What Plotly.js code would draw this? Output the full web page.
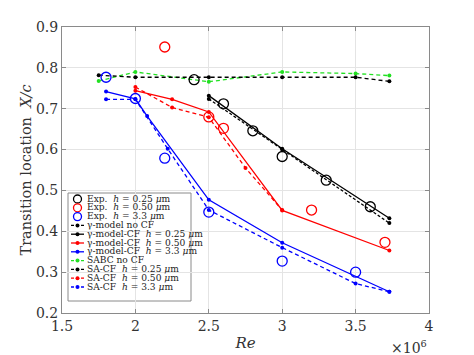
<!DOCTYPE html>
<html>
<head>
<meta charset="utf-8">
<script src="https://cdn.plot.ly/plotly-3.0.1.min.js"></script>
<style>html,body{margin:0;padding:0;background:#fff;}#chart{width:474px;height:355px;}</style>
</head>
<body>
<div id="chart"></div>
<script>
// ---- Data (Re in units of 1e6, transition location X/c) ----
const reExp025 = [2.4, 2.6, 2.8, 3.0, 3.3, 3.6];
const xcExp025 = [0.771, 0.712, 0.646, 0.583, 0.525, 0.46];
const reExp050 = [2.2, 2.5, 2.6, 3.2, 3.7];
const xcExp050 = [0.851, 0.68, 0.652, 0.452, 0.373];
const reExp33 = [1.8, 2.0, 2.2, 2.5, 3.0, 3.5];
const xcExp33 = [0.777, 0.725, 0.579, 0.447, 0.327, 0.30];

const reGamNoCF = [1.75, 2.0, 2.5, 3.0, 3.5, 3.73];
const xcGamNoCF = [0.782, 0.777, 0.777, 0.777, 0.777, 0.767];
const reGamCF025 = [2.5, 3.0, 3.73];
const xcGamCF025 = [0.732, 0.602, 0.432];
const reGamCF050 = [2.0, 2.25, 2.5, 3.0, 3.73];
const xcGamCF050 = [0.744, 0.723, 0.692, 0.451, 0.353];
const reGamCF33 = [1.8, 2.0, 2.08, 2.5, 3.0, 3.73];
const xcGamCF33 = [0.742, 0.724, 0.682, 0.477, 0.372, 0.252];

const reSABC = [1.75, 2.0, 2.5, 3.0, 3.5, 3.73];
const xcSABC = [0.768, 0.79, 0.766, 0.79, 0.786, 0.781];
const reSACF025 = [2.5, 3.0, 3.73];
const xcSACF025 = [0.724, 0.6, 0.42];
const reSACF050 = [2.0, 2.25, 2.5, 2.75, 3.0];
const xcSACF050 = [0.753, 0.703, 0.679, 0.555, 0.452];
const reSACF33 = [1.8, 2.0, 2.22, 2.5, 3.0, 3.5, 3.73];
const xcSACF33 = [0.723, 0.723, 0.602, 0.452, 0.36, 0.272, 0.252];

const xTicks = [1.5, 2, 2.5, 3, 3.5, 4];
const yTicks = [0.2, 0.3, 0.4, 0.5, 0.6, 0.7, 0.8, 0.9];

const legendLabels = [
  'Exp.\u00a0 <i>h</i> = 0.25 <i>μ</i>m',
  'Exp.\u00a0 <i>h</i> = 0.50 <i>μ</i>m',
  'Exp.\u00a0 <i>h</i> = 3.3 <i>μ</i>m',
  'γ-model no CF',
  'γ-model-CF\u00a0 <i>h</i> = 0.25 <i>μ</i>m',
  'γ-model-CF\u00a0 <i>h</i> = 0.50 <i>μ</i>m',
  'γ-model-CF\u00a0 <i>h</i> = 3.3 <i>μ</i>m',
  'SABC no CF',
  'SA-CF\u00a0 <i>h</i> = 0.25 <i>μ</i>m',
  'SA-CF\u00a0 <i>h</i> = 0.50 <i>μ</i>m',
  'SA-CF\u00a0 <i>h</i> = 3.3 <i>μ</i>m'
];
// ---- Styles ----
const BLACK = '#000000', RED = '#ff0000', BLUE = '#0000ff', GREEN = '#22e022';
const FONT = 'DejaVu Serif, serif';
const DASH = '4px,3px';

function expTrace(x, y, c) {
  return {x: x, y: y, mode: 'markers', type: 'scatter', showlegend: false,
    marker: {symbol: 'circle-open', size: 10, color: c, line: {width: 1.3, color: c}}};
}
function lineTrace(x, y, c, dash) {
  return {x: x, y: y, mode: 'lines+markers', type: 'scatter', showlegend: false,
    line: {color: c, width: 1.3, dash: dash}, marker: {size: 4, color: c}};
}

const traces = [
  lineTrace(reSABC, xcSABC, GREEN, DASH),
  lineTrace(reGamNoCF, xcGamNoCF, BLACK, DASH),
  lineTrace(reSACF025, xcSACF025, BLACK, '3px,2px'),
  lineTrace(reGamCF025, xcGamCF025, BLACK, 'solid'),
  lineTrace(reSACF050, xcSACF050, RED, DASH),
  lineTrace(reGamCF050, xcGamCF050, RED, 'solid'),
  lineTrace(reSACF33, xcSACF33, BLUE, DASH),
  lineTrace(reGamCF33, xcGamCF33, BLUE, 'solid'),
  expTrace(reExp025, xcExp025, BLACK),
  expTrace(reExp050, xcExp050, RED),
  expTrace(reExp33, xcExp33, BLUE)
];

// ---- Custom compact legend (pixel overlay axes) ----
const M = {l: 62, r: 45, t: 27, b: 42};
const W = 474, H = 355;
const PX0 = M.l, PX1 = W - M.r, PY0 = M.t, PY1 = H - M.b;
const LEG = {x0: 68, x1: 191, y0: 193, y1: 301, first: 199, step: 8.8, sx0: 71, sx1: 84, tx: 86};
const legSpec = [
  {c: BLACK, kind: 'exp'}, {c: RED, kind: 'exp'}, {c: BLUE, kind: 'exp'},
  {c: BLACK, kind: 'line', dash: 'dash'},
  {c: BLACK, kind: 'line', dash: 'solid'},
  {c: RED, kind: 'line', dash: 'solid'},
  {c: BLUE, kind: 'line', dash: 'solid'},
  {c: GREEN, kind: 'line', dash: 'dash'},
  {c: BLACK, kind: 'line', dash: 'dash'},
  {c: RED, kind: 'line', dash: 'dash'},
  {c: BLUE, kind: 'line', dash: 'dash'}
];
const annotations = [];
legSpec.forEach((s, i) => {
  const yy = LEG.first + i * LEG.step;
  const xm = (LEG.sx0 + LEG.sx1) / 2;
  if (s.kind === 'exp') {
    traces.push({x: [xm], y: [yy], xaxis: 'x2', yaxis: 'y2', mode: 'markers', showlegend: false,
      marker: {symbol: 'circle-open', size: 8, color: s.c, line: {width: 1.3, color: s.c}}});
  } else {
    traces.push({x: [LEG.sx0, LEG.sx1], y: [yy, yy], xaxis: 'x2', yaxis: 'y2', mode: 'lines', showlegend: false,
      line: {color: s.c, width: 1.3, dash: s.dash === 'dash' ? '3px,2px' : 'solid'}});
    traces.push({x: [xm], y: [yy], xaxis: 'x2', yaxis: 'y2', mode: 'markers', showlegend: false,
      marker: {size: 4, color: s.c}});
  }
  annotations.push({xref: 'x2', yref: 'y2', x: LEG.tx, y: yy, xanchor: 'left', yanchor: 'middle',
    height: 8.6, valign: 'middle', borderpad: 0,
    text: legendLabels[i], showarrow: false, font: {family: FONT, size: 9.1, color: '#222'}});
});
annotations.push({xref: 'paper', yref: 'paper', x: 1.0, y: (PY1 - 347) / (PY1 - PY0), xanchor: 'right', yanchor: 'middle',
  text: '×10<sup>6</sup>', showarrow: false, font: {family: FONT, size: 14, color: '#333'}});

const axisCommon = {
  showline: true, mirror: 'ticks', linecolor: '#8a8a8a', linewidth: 1,
  ticks: 'inside', ticklen: 4, tickcolor: '#8a8a8a',
  showgrid: true, gridcolor: '#e4e4e4', gridwidth: 1, zeroline: false,
  tickfont: {family: FONT, size: 14, color: '#333'}
};

const layout = {
  width: W, height: H, margin: M,
  paper_bgcolor: '#fff', plot_bgcolor: '#fff',
  showlegend: false,
  font: {family: FONT, color: '#333'},
  xaxis: Object.assign({}, axisCommon, {
    range: [1.5, 4], tickvals: xTicks, ticktext: xTicks.map(String),
    title: {text: '<i>Re</i>', font: {family: FONT, size: 15, color: '#333'}, standoff: 4}
  }),
  yaxis: Object.assign({}, axisCommon, {
    range: [0.2, 0.9], tickvals: yTicks, ticktext: yTicks.map(v => v.toFixed(1)),
    title: {text: 'Transition location\u00a0 <i>X/c</i>', font: {family: FONT, size: 14.5, color: '#333'}, standoff: 0}
  }),
  xaxis2: {overlaying: 'x', range: [PX0, PX1], visible: false, fixedrange: true},
  yaxis2: {overlaying: 'y', range: [PY1, PY0], visible: false, fixedrange: true},
  shapes: [{type: 'rect', xref: 'paper', yref: 'paper', layer: 'between',
    x0: (LEG.x0 - PX0) / (PX1 - PX0), x1: (LEG.x1 - PX0) / (PX1 - PX0),
    y0: (PY1 - LEG.y1) / (PY1 - PY0), y1: (PY1 - LEG.y0) / (PY1 - PY0),
    fillcolor: '#ffffff', line: {color: '#8a8a8a', width: 1}}],
  annotations: annotations
};

Plotly.newPlot('chart', traces, layout, {staticPlot: true, displayModeBar: false});
</script>
</body>
</html>
